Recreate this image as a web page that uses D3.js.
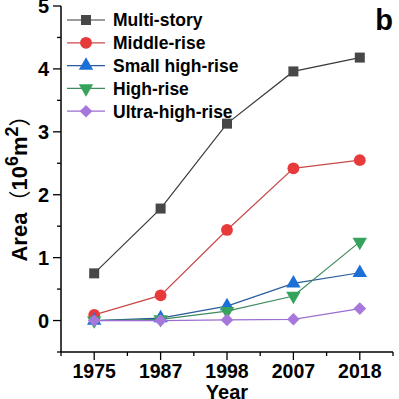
<!DOCTYPE html>
<html>
<head>
<meta charset="utf-8">
<script src="https://cdn.jsdelivr.net/npm/d3@7"></script>
<style>
  body { margin: 0; background: #fff; }
  svg { display: block; font-family: "Liberation Sans", Arial, sans-serif; font-weight: bold; }
</style>
</head>
<body>
<svg width="399" height="399"></svg>
<script>
// data
var years = ["1975", "1987", "1998", "2007", "2018"];
var multiStory = [0.75, 1.78, 3.13, 3.96, 4.18];
var middleRise = [0.09, 0.40, 1.44, 2.42, 2.55];
var smallHighRise = [0.0, 0.04, 0.23, 0.59, 0.76];
var highRise = [0.0, 0.02, 0.15, 0.39, 1.25];
var ultraHighRise = [0.0, 0.0, 0.01, 0.02, 0.19];
var yTicks = [0, 1, 2, 3, 4, 5];

var series = [
  {name: "Multi-story", values: multiStory, fill: "#474747", line: "#3a3a3a", sym: d3.symbolSquare, size: 100, rot: 0},
  {name: "Middle-rise", values: middleRise, fill: "#e83a3a", line: "#c94a4a", sym: d3.symbolCircle, size: 110, rot: 0},
  {name: "Small high-rise", values: smallHighRise, fill: "#1d6fd8", line: "#2a5a9a", sym: d3.symbolTriangle, size: 90, rot: 0},
  {name: "High-rise", values: highRise, fill: "#36a35c", line: "#3f8a5d", sym: d3.symbolTriangle, size: 90, rot: 180},
  {name: "Ultra-high-rise", values: ultraHighRise, fill: "#a877dc", line: "#9a6fd0", sym: d3.symbolSquare, size: 80, rot: 45}
];

var cfg = {left: 61, right: 393, top: 6, bottom: 352};

var svg = d3.select("svg");

// category positions are band centres, axis spans the five bands
var x = d3.scaleLinear().domain([0, years.length]).range([cfg.left, cfg.right]);
var y = d3.scaleLinear().domain([-0.5, 5]).range([cfg.bottom, cfg.top]);
var xc = function(i) { return x(i + 0.5); };

// axes
var axisG = svg.append("g");
axisG.append("line")
  .attr("x1", cfg.left).attr("x2", cfg.left)
  .attr("y1", cfg.top).attr("y2", cfg.bottom)
  .attr("stroke", "#000").attr("stroke-width", 1.5);
axisG.append("line")
  .attr("x1", cfg.left).attr("x2", cfg.right)
  .attr("y1", cfg.bottom).attr("y2", cfg.bottom)
  .attr("stroke", "#000").attr("stroke-width", 1.5);

// y ticks (major + minor)
var yMinor = d3.range(-0.5, 5, 1);
axisG.selectAll("line.ymaj").data(yTicks).enter().append("line")
  .attr("class", "ymaj")
  .attr("x1", cfg.left - 8).attr("x2", cfg.left)
  .attr("y1", function(d) { return y(d); }).attr("y2", function(d) { return y(d); })
  .attr("stroke", "#000").attr("stroke-width", 1.3);
axisG.selectAll("line.ymin").data(yMinor).enter().append("line")
  .attr("class", "ymin")
  .attr("x1", cfg.left - 4).attr("x2", cfg.left)
  .attr("y1", function(d) { return y(d); }).attr("y2", function(d) { return y(d); })
  .attr("stroke", "#000").attr("stroke-width", 1.3);
axisG.selectAll("text.ylab").data(yTicks).enter().append("text")
  .attr("class", "ylab")
  .attr("x", cfg.left - 12)
  .attr("y", function(d) { return y(d); })
  .attr("dy", "0.36em")
  .attr("text-anchor", "end")
  .attr("font-size", 20)
  .text(function(d) { return d; });

// x ticks (major at categories, minor at boundaries)
axisG.selectAll("line.xmaj").data(years).enter().append("line")
  .attr("class", "xmaj")
  .attr("x1", function(d, i) { return xc(i); }).attr("x2", function(d, i) { return xc(i); })
  .attr("y1", cfg.bottom).attr("y2", cfg.bottom + 8)
  .attr("stroke", "#000").attr("stroke-width", 1.3);
axisG.selectAll("line.xmin").data(d3.range(0, years.length + 1)).enter().append("line")
  .attr("class", "xmin")
  .attr("x1", function(d) { return x(d); }).attr("x2", function(d) { return x(d); })
  .attr("y1", cfg.bottom).attr("y2", cfg.bottom + 4)
  .attr("stroke", "#000").attr("stroke-width", 1.3);
axisG.selectAll("text.xlab").data(years).enter().append("text")
  .attr("class", "xlab")
  .attr("x", function(d, i) { return xc(i); })
  .attr("y", 378)
  .attr("text-anchor", "middle")
  .attr("font-size", 19.5)
  .text(function(d) { return d; });

// axis titles
svg.append("text")
  .attr("x", (cfg.left + cfg.right) / 2)
  .attr("y", 399)
  .attr("text-anchor", "middle")
  .attr("font-size", 20)
  .text("Year");

var yt = svg.append("text")
  .attr("transform", "translate(27,183) rotate(-90)")
  .attr("text-anchor", "middle")
  .attr("font-size", 22);
yt.append("tspan").text("Area");
yt.append("tspan").attr("font-weight", "normal").attr("font-family", "Noto Sans CJK SC").text("（");
yt.append("tspan").text("10");
yt.append("tspan").attr("dy", -9).attr("font-size", 18).text("6");
yt.append("tspan").attr("dy", 9).text("m");
yt.append("tspan").attr("dy", -9).attr("font-size", 18).text("2");
yt.append("tspan").attr("dy", 9).attr("font-weight", "normal").attr("font-family", "Noto Sans CJK SC").text("）");

svg.append("text")
  .attr("x", 384).attr("y", 30)
  .attr("text-anchor", "middle")
  .attr("font-size", 29)
  .text("b");

// series lines and markers
var line = d3.line()
  .x(function(d, i) { return xc(i); })
  .y(function(d) { return y(d); });

series.forEach(function(s) {
  var g = svg.append("g");
  g.append("path")
    .attr("d", line(s.values))
    .attr("fill", "none")
    .attr("stroke", s.line)
    .attr("stroke-width", 1.2);
  g.selectAll("path.pt").data(s.values).enter().append("path")
    .attr("class", "pt")
    .attr("d", d3.symbol().type(s.sym).size(s.size))
    .attr("transform", function(d, i) {
      return "translate(" + xc(i) + "," + y(d) + ") rotate(" + s.rot + ")";
    })
    .attr("fill", s.fill);
});

// legend
var leg = svg.append("g").attr("transform", "translate(67,20)");
var items = leg.selectAll("g").data(series).enter().append("g")
  .attr("transform", function(d, i) { return "translate(0," + (i * 22.8) + ")"; });
items.append("line")
  .attr("x1", 0).attr("x2", 38)
  .attr("stroke", function(d) { return d.line; })
  .attr("stroke-width", 1.2);
items.append("path")
  .attr("d", function(d) { return d3.symbol().type(d.sym).size(d.size)(); })
  .attr("transform", function(d) { return "translate(19,0) rotate(" + d.rot + ")"; })
  .attr("fill", function(d) { return d.fill; });
items.append("text")
  .attr("x", 46)
  .attr("dy", "0.36em")
  .attr("font-size", 17.5)
  .text(function(d) { return d.name; });
</script>
</body>
</html>
